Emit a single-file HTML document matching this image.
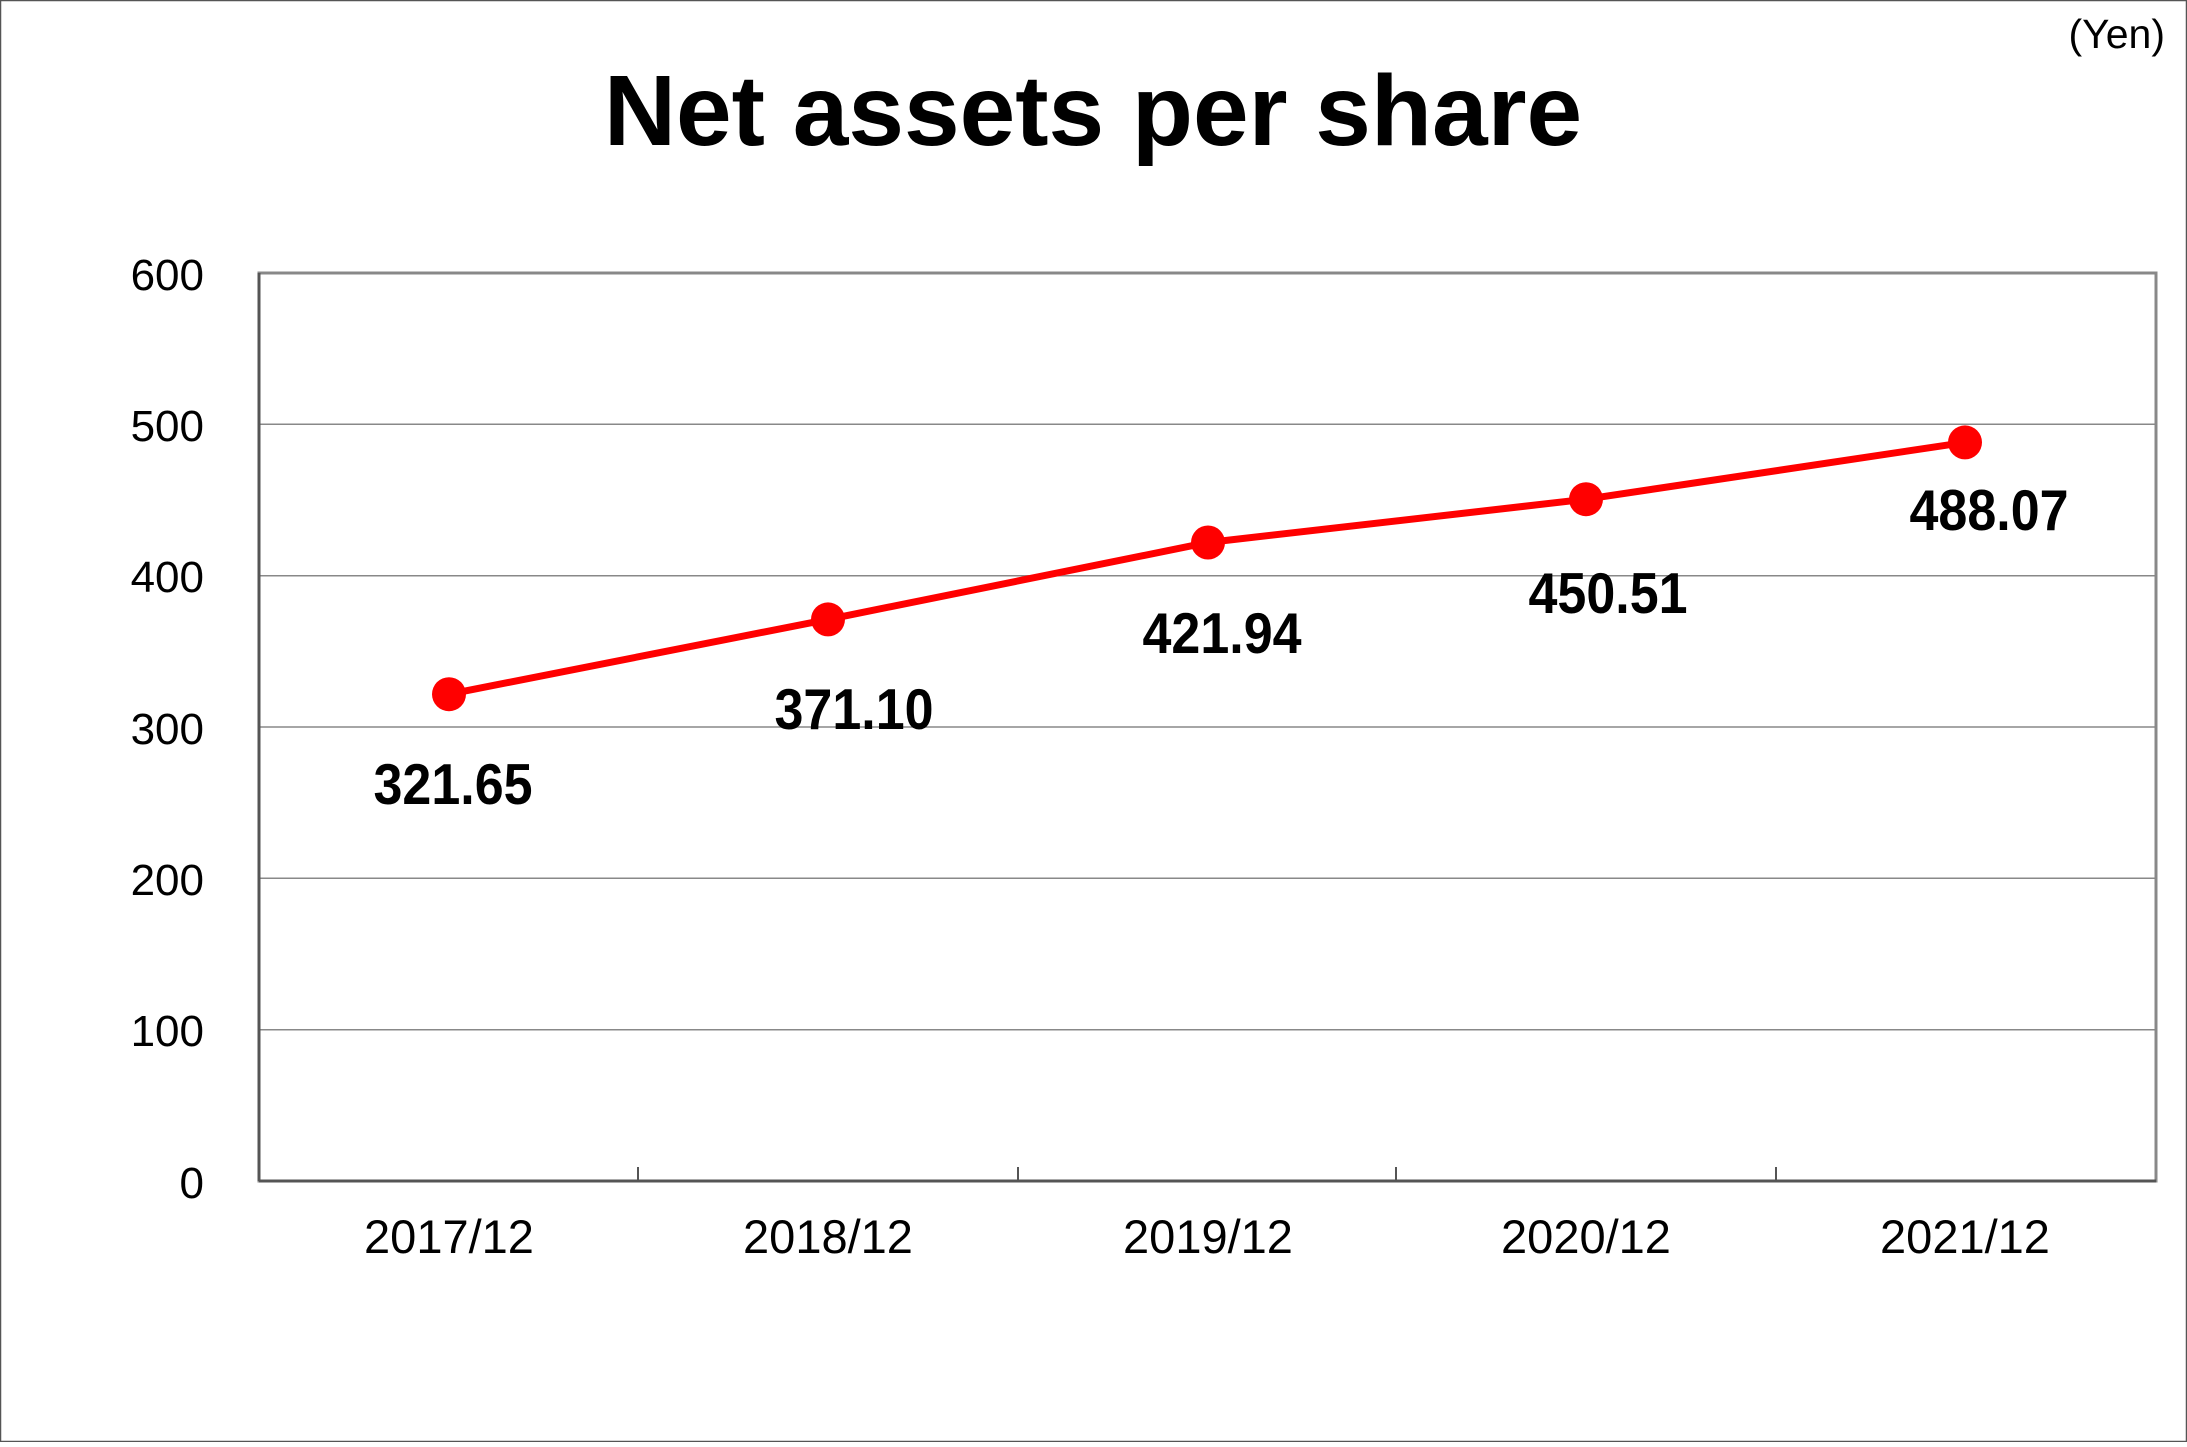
<!DOCTYPE html>
<html><head><meta charset="utf-8"><style>html,body{margin:0;padding:0;background:#fff}</style></head>
<body>
<svg width="2187" height="1442" viewBox="0 0 2187 1442" xmlns="http://www.w3.org/2000/svg" font-family="'Liberation Sans', sans-serif">
<rect x="0.5" y="0.5" width="2186" height="1441" fill="#fff" stroke="#555" stroke-width="1.5"/>
<text x="2165" y="48" text-anchor="end" font-size="41">(Yen)</text>
<text x="1093" y="145" text-anchor="middle" font-size="100" font-weight="bold">Net assets per share</text>
<g stroke="#888" stroke-width="1.5">
<line x1="259" y1="424.3" x2="2156" y2="424.3"/>
<line x1="259" y1="575.7" x2="2156" y2="575.7"/>
<line x1="259" y1="727" x2="2156" y2="727"/>
<line x1="259" y1="878.3" x2="2156" y2="878.3"/>
<line x1="259" y1="1029.7" x2="2156" y2="1029.7"/>
</g>
<rect x="259" y="273" width="1897" height="908" fill="none" stroke="#888" stroke-width="3"/>
<line x1="259" y1="1181" x2="2156" y2="1181" stroke="#555" stroke-width="3"/>
<line x1="259" y1="273" x2="259" y2="1181" stroke="#555" stroke-width="3"/>
<g stroke="#555" stroke-width="2">
<line x1="638" y1="1167" x2="638" y2="1181"/><line x1="1018" y1="1167" x2="1018" y2="1181"/>
<line x1="1396" y1="1167" x2="1396" y2="1181"/><line x1="1776" y1="1167" x2="1776" y2="1181"/>
</g>
<g font-size="44" text-anchor="end">
<text x="204" y="290">600</text><text x="204" y="441">500</text><text x="204" y="592">400</text>
<text x="204" y="744">300</text><text x="204" y="895">200</text><text x="204" y="1046">100</text><text x="204" y="1198">0</text>
</g>
<g font-size="47" text-anchor="middle">
<text x="449" y="1253">2017/12</text><text x="828" y="1253">2018/12</text><text x="1208" y="1253">2019/12</text>
<text x="1586" y="1253">2020/12</text><text x="1965" y="1253">2021/12</text>
</g>
<polyline points="449,694.2 828,619.4 1208,542.5 1586,499.2 1965,442.4" fill="none" stroke="#f00" stroke-width="7"/>
<g fill="#f00">
<circle cx="449" cy="694.2" r="17"/><circle cx="828" cy="619.4" r="17"/><circle cx="1208" cy="542.5" r="17"/>
<circle cx="1586" cy="499.2" r="17"/><circle cx="1965" cy="442.4" r="17"/>
</g>
<g font-size="52" font-weight="bold" text-anchor="middle">
<text transform="translate(453,804) scale(1,1.1)">321.65</text><text transform="translate(854,729) scale(1,1.1)">371.10</text><text transform="translate(1222,653) scale(1,1.1)">421.94</text>
<text transform="translate(1608,613) scale(1,1.1)">450.51</text><text transform="translate(1989,530) scale(1,1.1)">488.07</text>
</g>
</svg>
</body></html>
